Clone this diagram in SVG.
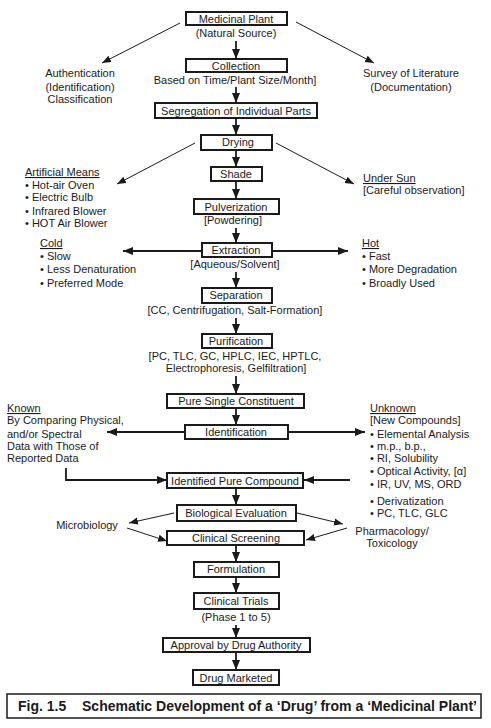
<svg xmlns="http://www.w3.org/2000/svg" width="491" height="728" viewBox="0 0 491 728">
<defs>
<marker id="ah" markerUnits="userSpaceOnUse" markerWidth="10" markerHeight="10" viewBox="0 0 10 10" refX="10" refY="5" orient="auto">
<path d="M0,1 L10,5 L0,9 Z" fill="#1a1a1a"/>
</marker>
<marker id="ahs" markerUnits="userSpaceOnUse" markerWidth="9" markerHeight="9" viewBox="0 0 10 10" refX="10" refY="5" orient="auto">
<path d="M0,1 L10,5 L0,9 Z" fill="#1a1a1a"/>
</marker>
</defs>
<style>
rect.n{fill:#fff;stroke:#1a1a1a;stroke-width:2}
text{font-family:"Liberation Sans",Arial,sans-serif;font-size:11px;fill:#1a1a1a}
.c{text-anchor:middle}
.u{text-decoration:underline}
.v{stroke:#1a1a1a;stroke-width:1.8;fill:none;marker-end:url(#ah)}
.d{stroke:#1a1a1a;stroke-width:1;fill:none;marker-end:url(#ahs)}
.h{stroke:#1a1a1a;stroke-width:1.8;fill:none;marker-end:url(#ah)}
.cap{font-size:14px;font-weight:bold}
</style>
<rect width="491" height="728" fill="#fff"/>
<g id="connectors">
<line class="v" x1="236" y1="41" x2="236" y2="59"/>
<line class="v" x1="236" y1="87" x2="236" y2="103"/>
<line class="v" x1="236" y1="118" x2="236" y2="135"/>
<line class="v" x1="236" y1="150" x2="236" y2="167"/>
<line class="v" x1="236" y1="181" x2="236" y2="199"/>
<line class="v" x1="236" y1="228" x2="236" y2="243"/>
<line class="v" x1="236" y1="272" x2="236" y2="288"/>
<line class="v" x1="236" y1="318" x2="236" y2="334"/>
<line class="v" x1="236" y1="376" x2="236" y2="394"/>
<line class="v" x1="236" y1="408" x2="236" y2="425"/>
<line class="v" x1="236" y1="488" x2="236" y2="505"/>
<line class="v" x1="236" y1="545" x2="236" y2="562"/>
<line class="v" x1="236" y1="577" x2="236" y2="593"/>
<line class="v" x1="236" y1="625" x2="236" y2="638"/>
<line class="v" x1="236" y1="652" x2="236" y2="670"/>
<line class="d" x1="180" y1="23" x2="102" y2="63"/>
<line class="d" x1="296" y1="22" x2="374" y2="63"/>
<line class="d" x1="195" y1="143" x2="117" y2="184"/>
<line class="d" x1="276" y1="143" x2="354" y2="184"/>
<line class="h" x1="202" y1="251" x2="123" y2="251"/>
<line class="h" x1="272" y1="251" x2="348" y2="251"/>
<line class="h" x1="185" y1="432" x2="107" y2="432"/>
<line class="h" x1="288" y1="432" x2="365" y2="432"/>
<polyline class="h" points="66,468 66,480 167,480"/>
<line class="h" x1="350" y1="480" x2="304" y2="480"/>
<line class="d" x1="174" y1="513" x2="129" y2="523"/>
<line class="d" x1="127" y1="528" x2="167" y2="541"/>
<line class="d" x1="297" y1="513" x2="343" y2="524"/>
<line class="d" x1="347" y1="528" x2="306" y2="540"/>
</g>
<g id="medicinal-plant"><rect class="n" x="186" y="12" width="101" height="13"/><text class="c" x="236" y="22.5">Medicinal Plant</text><text class="c" x="236" y="37">(Natural  Source)</text></g>
<g id="collection"><rect class="n" x="186" y="59" width="101" height="13"/><text class="c" x="236" y="69.5">Collection</text><text class="c" x="235" y="84">Based on Time/Plant Size/Month]</text></g>
<g id="segregation"><rect class="n" x="155" y="103" width="162" height="15"/><text class="c" x="236" y="114.5">Segregation of Individual Parts</text></g>
<g id="drying"><rect class="n" x="201" y="135" width="71" height="15"/><text class="c" x="238" y="146">Drying</text></g>
<g id="shade"><rect class="n" x="211" y="167" width="51" height="14"/><text class="c" x="236" y="178">Shade</text></g>
<g id="pulverization"><rect class="n" x="194" y="199" width="85" height="15"/><text class="c" x="236" y="210.5">Pulverization</text><text class="c" x="233" y="224">[Powdering]</text></g>
<g id="extraction"><rect class="n" x="202" y="243" width="70" height="14"/><text class="c" x="236" y="254">Extraction</text><text class="c" x="235" y="268">[Aqueous/Solvent]</text></g>
<g id="separation"><rect class="n" x="202" y="288" width="70" height="15"/><text class="c" x="236" y="299">Separation</text><text class="c" x="235" y="314">[CC, Centrifugation, Salt-Formation]</text></g>
<g id="purification"><rect class="n" x="202" y="334" width="70" height="14"/><text class="c" x="236" y="345">Purification</text><text class="c" x="235" y="360">[PC, TLC, GC, HPLC, IEC, HPTLC,</text><text class="c" x="236" y="372">Electrophoresis, Gelfiltration]</text></g>
<g id="pure-single"><rect class="n" x="167" y="394" width="137" height="14"/><text class="c" x="236" y="405">Pure Single Constituent</text></g>
<g id="identification"><rect class="n" x="185" y="425" width="103" height="14"/><text class="c" x="236" y="436">Identification</text></g>
<g id="identified-pure"><rect class="n" x="167" y="473" width="136" height="15"/><text class="c" x="235" y="484.5">Identified Pure Compound</text></g>
<g id="biological"><rect class="n" x="177" y="505" width="119" height="16"/><text class="c" x="236" y="516.5">Biological Evaluation</text></g>
<g id="clinical-screening"><rect class="n" x="167" y="531" width="137" height="14"/><text class="c" x="236" y="542">Clinical Screening</text></g>
<g id="formulation"><rect class="n" x="194" y="562" width="85" height="15"/><text class="c" x="236" y="573">Formulation</text></g>
<g id="clinical-trials"><rect class="n" x="194" y="593" width="85" height="16"/><text class="c" x="236" y="604.5">Clinical Trials</text><text class="c" x="236" y="621">(Phase 1 to 5)</text></g>
<g id="approval"><rect class="n" x="163" y="638" width="147" height="14"/><text class="c" x="236" y="649">Approval by Drug Authority</text></g>
<g id="drug-marketed"><rect class="n" x="193" y="670" width="86" height="15"/><text class="c" x="236" y="681.5">Drug Marketed</text></g>
<g id="authentication"><text class="c" x="80" y="77">Authentication</text><text class="c" x="80" y="91">(Identification)</text><text class="c" x="80" y="103">Classification</text></g>
<g id="survey"><text class="c" x="411" y="77">Survey of Literature</text><text class="c" x="411" y="91">(Documentation)</text></g>
<g id="artificial-means"><text class="u" x="25" y="176">Artificial Means</text><text x="25" y="189">• Hot-air Oven</text><text x="25" y="201">• Electric Bulb</text><text x="25" y="215">• Infrared Blower</text><text x="25" y="227">• HOT Air Blower</text></g>
<g id="under-sun"><text class="u" x="363" y="182">Under Sun</text><text x="363" y="194">[Careful observation]</text></g>
<g id="cold"><text class="u" x="40" y="247">Cold</text><text x="40" y="260">• Slow</text><text x="40" y="273">• Less Denaturation</text><text x="40" y="287">• Preferred Mode</text></g>
<g id="hot"><text class="u" x="362" y="247">Hot</text><text x="362" y="260">• Fast</text><text x="362" y="273">• More Degradation</text><text x="362" y="287">• Broadly Used</text></g>
<g id="known"><text class="u" x="7" y="412">Known</text><text x="7" y="424">By Comparing Physical,</text><text x="7" y="438">and/or Spectral</text><text x="7" y="450">Data with Those of</text><text x="7" y="462">Reported Data</text></g>
<g id="unknown"><text class="u" x="370" y="412">Unknown</text><text x="370" y="424">[New Compounds]</text><text x="370" y="438">• Elemental Analysis</text><text x="370" y="450">• m.p., b.p.,</text><text x="370" y="462">• RI, Solubility</text><text x="370" y="475">• Optical Activity, [α]</text><text x="370" y="488">• IR, UV, MS, ORD</text><text x="370" y="505">• Derivatization</text><text x="370" y="517">• PC, TLC, GLC</text></g>
<g id="microbiology"><text class="c" x="87" y="529">Microbiology</text></g>
<g id="pharmacology"><text class="c" x="392" y="535">Pharmacology/</text><text class="c" x="392" y="547">Toxicology</text></g>
<g id="caption"><rect x="7" y="694" width="474" height="24" fill="none" stroke="#1a1a1a" stroke-width="1.5"/><text class="cap" x="18" y="710.5">Fig. 1.5</text><text class="cap" x="82" y="710.5" textLength="395" lengthAdjust="spacingAndGlyphs">Schematic Development of a ‘Drug’ from a ‘Medicinal Plant’</text></g>
</svg>
